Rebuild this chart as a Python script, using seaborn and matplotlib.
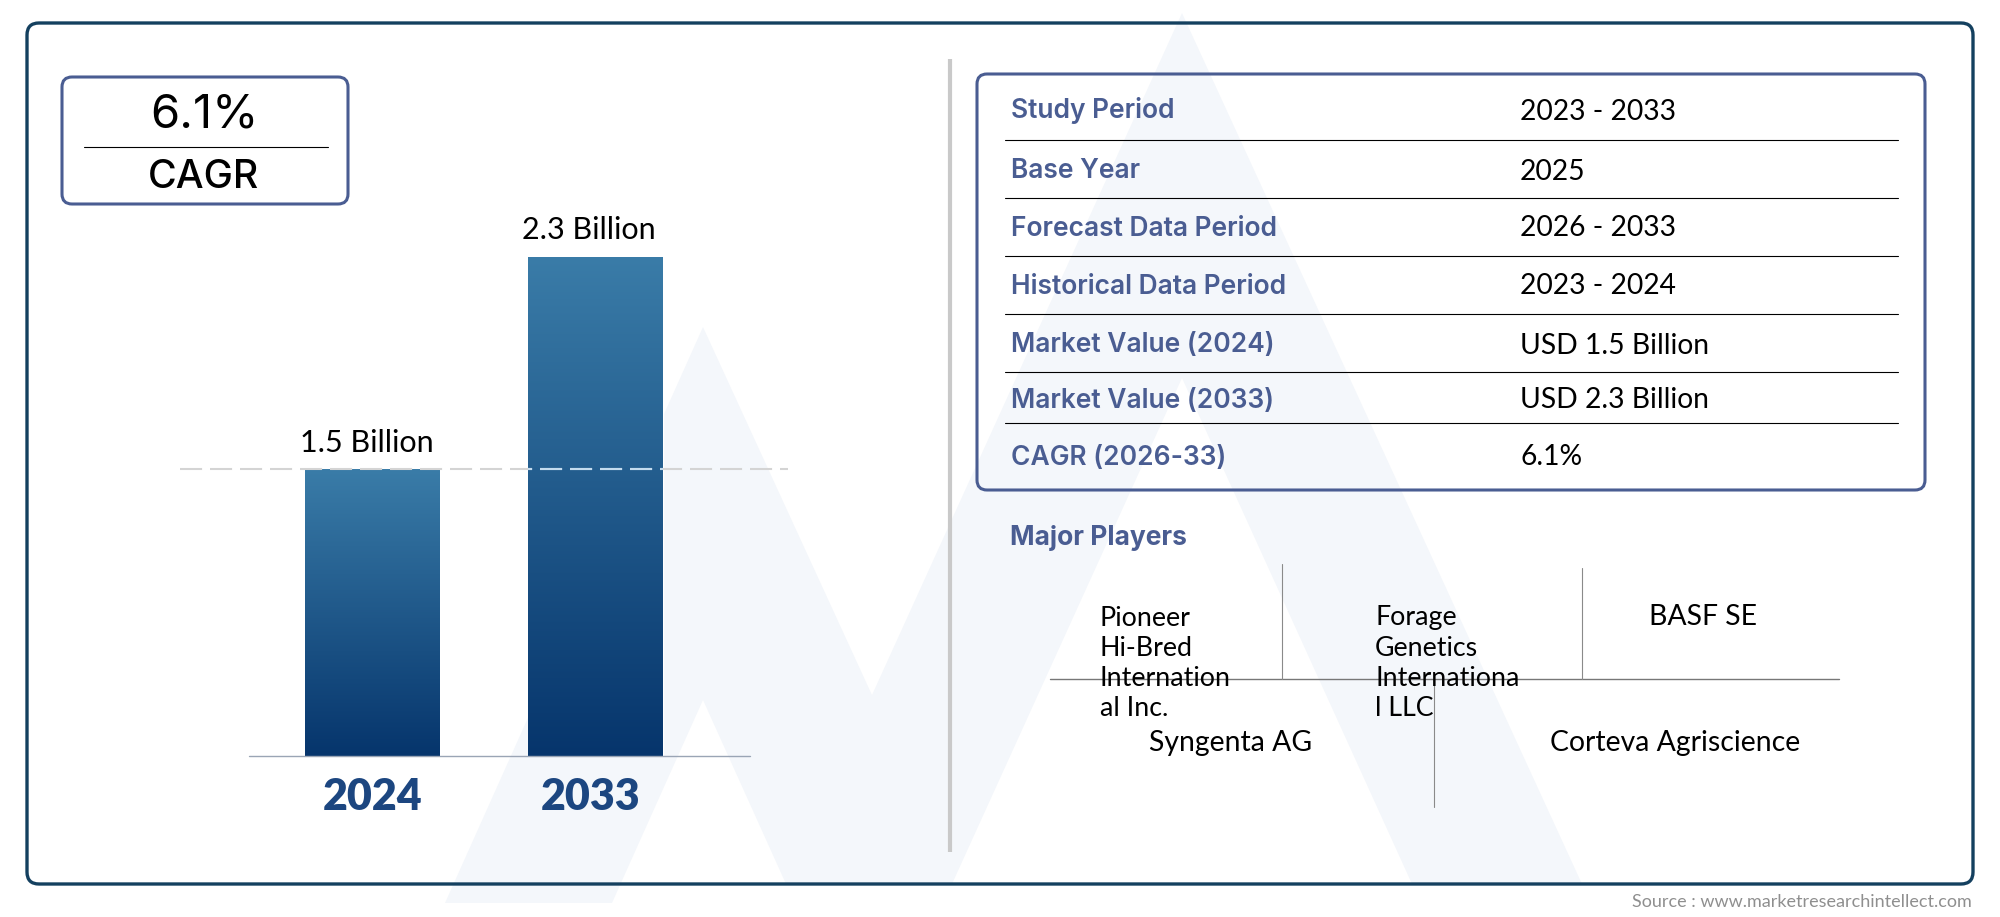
"""Market size infographic: CAGR badge, two bars, summary table, major players."""
import matplotlib
matplotlib.use('Agg')
import matplotlib.pyplot as plt
import numpy as np
import seaborn as sns
from matplotlib.colors import LinearSegmentedColormap
from matplotlib.patches import FancyBboxPatch, Polygon
from matplotlib.transforms import ScaledTranslation

# data
years = ['2024', '2033']
# heights as drawn in the picture, the source bars are not to scale with their labels
bar_values = [1.5, 2.61]
bar_labels = ['1.5 Billion', '2.3 Billion']
cagr_text = '6.1%'
cagr_label = 'CAGR'
table_labels = ['Study Period', 'Base Year', 'Forecast Data Period', 'Historical Data Period',
                'Market Value (2024)', 'Market Value (2033)', 'CAGR (2026-33)']
table_values = ['2023 - 2033', '2025', '2026 - 2033', '2023 - 2024',
                'USD 1.5 Billion', 'USD 2.3 Billion', '6.1%']
players_title = 'Major Players'
source_text = 'Source : www.marketresearchintellect.com'

W, H = 2000, 917
NAVY = '#14405f'
SLATE = '#4a5d92'
WATERMARK = '#f4f7fb'
BODY_FONT = ['Lato', 'DejaVu Sans']
HEAD_FONT = ['Inter', 'DejaVu Sans']

sns.set_theme(style='white')
plt.rcParams['font.family'] = BODY_FONT

fig = plt.figure(figsize=(W / 100, H / 100), dpi=100, facecolor='white')

# full canvas in pixel coordinates for everything around the bars
bg = fig.add_axes([0, 0, 1, 1])
bg.set_xlim(0, W)
bg.set_ylim(H, 0)
bg.axis('off')


def rounded_box(x0, y0, x1, y1, color, lw, radius=10):
    bg.add_patch(FancyBboxPatch((x0, y0), x1 - x0, y1 - y0,
                                boxstyle=f'round,pad=0,rounding_size={radius}',
                                fc='none', ec=color, lw=lw, zorder=3))


# watermark logo
bg.add_patch(Polygon([(445, 903), (703, 327), (872, 695), (1182, 13), (1582, 884),
                      (1412, 884), (1182, 378), (952, 884), (786, 884), (703, 700), (612, 903)],
                     closed=True, fc=WATERMARK, ec='none', zorder=1))

rounded_box(27, 23, 1973, 884, NAVY, 2.4, radius=12)
rounded_box(62, 77, 348, 204, SLATE, 2.2)
rounded_box(977, 74, 1925, 490, SLATE, 2.2)

# CAGR badge
bg.plot([84, 328], [147, 147], color='black', lw=0.8, zorder=3)
bg.text(204, 116, cagr_text, fontsize=34, ha='center', va='center', color='black',
        family=HEAD_FONT, zorder=4)
bg.text(204, 177, cagr_label, fontsize=28.3, ha='center', va='center', color='black',
        family=HEAD_FONT, weight='medium', zorder=4)

# divider between the two halves
bg.plot([950, 950], [59, 852], color='#c9c9c9', lw=3, solid_capstyle='butt', zorder=2)

# summary table
row_lines = [140, 198, 256, 314, 372, 423]
label_y = [111, 171, 229, 287, 345, 401, 458]
value_y = [112, 172, 228, 286, 346, 400, 457]
for y in row_lines:
    bg.plot([1005, 1898], [y, y], color='black', lw=0.8, zorder=3)
for y, text in zip(label_y, table_labels):
    bg.text(1011, y, text, fontsize=19, color=SLATE, va='center', ha='left',
            family=HEAD_FONT, weight='semibold', zorder=4)
for y, text in zip(value_y, table_values):
    bg.text(1520, y, text, fontsize=20.3, color='black', va='center', ha='left', zorder=4)

# major players block
bg.text(1010, 538, players_title, fontsize=19, color=SLATE, va='center', ha='left',
        family=HEAD_FONT, weight='bold', zorder=4)
bg.plot([1050, 1839], [679, 679], color='#777777', lw=1, zorder=3)
for x, y0, y1 in [(1282, 564, 679), (1582, 568, 679), (1434, 679, 807)]:
    bg.plot([x, x], [y0, y1], color='#8a8a8a', lw=0.8, zorder=3)

wrapped_y = [618, 648, 679, 709]
for x, lines in [(1100, ['Pioneer', 'Hi-Bred', 'Internation', 'al Inc.']),
                 (1375, ['Forage', 'Genetics', 'Internationa', 'l LLC'])]:
    for y, line in zip(wrapped_y, lines):
        bg.text(x, y, line, fontsize=19.3, color='black', va='center', ha='left', zorder=4)
for x, y, name in [(1703, 617, 'BASF SE'), (1231, 743, 'Syngenta AG'),
                   (1675, 743, 'Corteva Agriscience')]:
    bg.text(x, y, name, fontsize=20.4, color='black', va='center', ha='center', zorder=4)

bg.text(1972, 902, source_text, fontsize=13, color='#8f8f8f', va='center', ha='right', zorder=4)

# bar axes: 180..788 px wide, baseline at y=756, 287 px per 1.5 units
ax_left, ax_right, ax_top, ax_base = 180, 788, 200, 756
ax = fig.add_axes([ax_left / W, 1 - ax_base / H, (ax_right - ax_left) / W, (ax_base - ax_top) / H])
ax.patch.set_visible(False)
sns.barplot(x=years, y=bar_values, width=0.605, color='#1f5a8c', ax=ax)
xlim = (-0.863, 1.863)
ylim = (0, 2.906)

# vertical gradient clipped to each bar
cmap = LinearSegmentedColormap.from_list('bar_fade', ['#06356c', '#3a7ca8'])
ramp = np.linspace(1, 0, 256).reshape(-1, 1)
bars = list(ax.containers[0])
for bar in bars:
    bar.set_facecolor('none')
    img = ax.imshow(ramp, cmap=cmap, aspect='auto', zorder=2,
                    extent=(bar.get_x(), bar.get_x() + bar.get_width(), 0, bar.get_height()))
    img.set_clip_path(bar)
ax.set_xlim(*xlim)
ax.set_ylim(*ylim)

value_labels = ax.bar_label(ax.containers[0], labels=bar_labels, padding=9, fontsize=22, color='black')
for label, dx in zip(value_labels, [-4, -5]):
    label.xyann = (dx, label.xyann[1])

# dashed level of the first bar, pale blue where it crosses the taller bar
ax.axhline(bar_values[0], color='#d4d4d4', lw=1.5, dashes=(10.6, 3.8), zorder=3)
over_bar = ax.axhline(bar_values[0], color='#c3dbee', lw=1.5, dashes=(10.6, 3.8), zorder=4)
over_bar.set_clip_path(bars[1])
ax.axhline(0, xmin=(249 - ax_left) / (ax_right - ax_left), xmax=(750 - ax_left) / (ax_right - ax_left),
           color='#9aa5b5', lw=1, clip_on=False, zorder=3)

sns.despine(ax=ax, left=True, bottom=True)
ax.set_yticks([])
ax.set_xlabel('')
ax.set_ylabel('')
ax.tick_params(axis='x', length=0, pad=15)
for tick, dx in zip(ax.get_xticklabels(), [0, -5]):
    tick.set_fontsize(31)
    tick.set_fontweight('heavy')
    tick.set_color('#1c4680')
    tick.set_transform(tick.get_transform() + ScaledTranslation(dx / 100, 0, fig.dpi_scale_trans))

fig.savefig('out.png', dpi=100)
